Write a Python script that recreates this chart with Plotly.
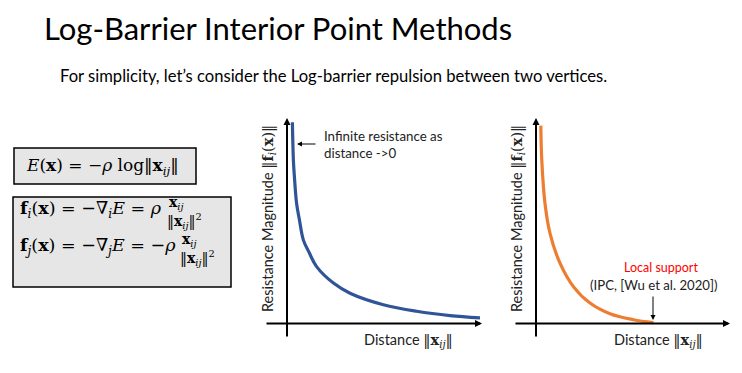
import plotly.graph_objects as go

# page body has an 8px margin, so the figure is drawn inside it
OFF = 8
FW, FH = 726, 357

# ---- data ----
dist_left = [0.027, 0.032, 0.037, 0.048, 0.062, 0.082, 0.112, 0.148, 0.232, 0.315, 0.482, 0.648, 0.815, 0.965]
mag_left = [0.979, 0.793, 0.715, 0.584, 0.505, 0.406, 0.343, 0.277, 0.197, 0.148, 0.092, 0.060, 0.039, 0.028]

dist_right = [0.024, 0.029, 0.045, 0.070, 0.120, 0.187, 0.270, 0.370, 0.487, 0.587]
mag_right = [0.963, 0.793, 0.584, 0.439, 0.294, 0.180, 0.100, 0.048, 0.019, 0.005]

title_text = "Log-Barrier Interior Point Methods"
subtitle_text = "For simplicity, let\u2019s consider the Log-barrier repulsion between two vertices."

BLUE = "#2F5597"
ORANGE = "#ED7D31"
SANS = "Lato"
SERIF = "DejaVu Serif"


def P(px):
    return (px - OFF) / FW


def Q(py):
    return 1 - (py - OFF) / FH


fig = go.Figure()
fig.add_trace(go.Scatter(x=dist_left, y=mag_left, mode="lines", line=dict(color=BLUE, width=3.2, shape="spline"),
                         xaxis="x", yaxis="y", showlegend=False, hoverinfo="skip"))
fig.add_trace(go.Scatter(x=dist_right, y=mag_right, mode="lines", line=dict(color=ORANGE, width=3.2, shape="spline"),
                         xaxis="x2", yaxis="y2", showlegend=False, hoverinfo="skip"))

ax_common = dict(visible=False, fixedrange=True)
fig.update_layout(
    width=FW, height=FH, margin=dict(l=0, r=0, t=0, b=0),
    paper_bgcolor="white", plot_bgcolor="rgba(0,0,0,0)",
    xaxis=dict(domain=[P(265), P(487)], range=[-0.11, 1.0], **ax_common),
    yaxis=dict(domain=[Q(338), Q(118)], range=[-0.07, 1.0], **ax_common),
    xaxis2=dict(domain=[P(514), P(734)], range=[-0.11, 0.99], anchor="y2", **ax_common),
    yaxis2=dict(domain=[Q(338), Q(118)], range=[-0.07, 1.0], anchor="x2", **ax_common),
)

ann = []
# axis arrows
for xr, yr, xend in (("x", "y", 0.975), ("x2", "y2", 0.97)):
    ann.append(dict(xref=xr, yref=yr, axref=xr, ayref=yr, x=xend, y=0, ax=-0.11, ay=0, text="",
                    showarrow=True, arrowhead=2, arrowsize=0.7, arrowwidth=2, arrowcolor="black", standoff=0))
    ann.append(dict(xref=xr, yref=yr, axref=xr, ayref=yr, x=0, y=1.0, ax=0, ay=-0.07, text="",
                    showarrow=True, arrowhead=2, arrowsize=0.7, arrowwidth=2, arrowcolor="black", standoff=0))

# title and subtitle
ann.append(dict(xref="paper", yref="paper", x=P(43), y=Q(8), xanchor="left", yanchor="top", borderpad=0,
                text=title_text, showarrow=False, font=dict(family=SANS, size=31, color="black")))
ann.append(dict(xref="paper", yref="paper", x=P(58), y=Q(76), xanchor="left", yanchor="middle",
                text=subtitle_text, showarrow=False, font=dict(family=SANS, size=16.6, color="black")))


def math(s):
    return f"<span style='font-family:{SERIF}'>{s}</span>"


ylab = "Resistance Magnitude " + math("\u2016<b>f</b><sub><i>i</i></sub>(<b>x</b>)\u2016")
xlab = "Distance " + math("\u2016<b>x</b><sub><i>ij</i></sub>\u2016")
for cx in (268, 517):
    ann.append(dict(xref="paper", yref="paper", x=P(cx), y=Q(219), xanchor="center", yanchor="middle",
                    text=ylab, textangle=-90, showarrow=False, font=dict(family=SANS, size=14.5, color="#222")))
for cx in (408, 658):
    ann.append(dict(xref="paper", yref="paper", x=P(cx), y=Q(340), xanchor="center", yanchor="middle",
                    text=xlab, showarrow=False, font=dict(family=SANS, size=14.5, color="#222")))

# left plot note
ann.append(dict(xref="paper", yref="paper", x=P(322), y=Q(144.5), xanchor="left", yanchor="middle", align="left",
                text="Infinite resistance as<br>distance ->0", showarrow=False,
                font=dict(family=SANS, size=13.3, color="#222")))
ann.append(dict(xref="paper", yref="paper", x=P(297), y=Q(144), ax=20, ay=0, text="", showarrow=True,
                arrowhead=2, arrowsize=1, arrowwidth=1, arrowcolor="black", standoff=0))

# right plot note
ann.append(dict(xref="paper", yref="paper", x=P(661), y=Q(267), xanchor="center", yanchor="middle",
                text="Local support", showarrow=False, font=dict(family=SANS, size=12.5, color="#FF0000")))
ann.append(dict(xref="paper", yref="paper", x=P(654), y=Q(285), xanchor="center", yanchor="middle",
                text="(IPC, [Wu et al. 2020])", showarrow=False, font=dict(family=SANS, size=13.2, color="#222")))
ann.append(dict(xref="paper", yref="paper", x=P(653), y=Q(320), ax=0, ay=-25, text="", showarrow=True,
                arrowhead=2, arrowsize=1, arrowwidth=1, arrowcolor="black", standoff=0))

# equations
eqf1 = dict(family=SERIF, size=17, color="black")
eqf = dict(family=SERIF, size=17.5, color="black")
eqs = dict(family=SERIF, size=14, color="black")
ann.append(dict(xref="paper", yref="paper", x=P(24), y=Q(166.5), xanchor="left", yanchor="middle",
                text="<i>E</i>(<b>x</b>) = \u2212<i>\u03c1</i> log\u2016<b>x</b><sub><i>ij</i></sub>\u2016",
                showarrow=False, font=eqf1))
ann.append(dict(xref="paper", yref="paper", x=P(18), y=Q(209), xanchor="left", yanchor="middle",
                text="<b>f</b><sub><i>i</i></sub>(<b>x</b>) = \u2212\u2207<sub><i>i</i></sub><i>E</i> = <i>\u03c1</i>",
                showarrow=False, font=eqf))
ann.append(dict(xref="paper", yref="paper", x=P(18), y=Q(246), xanchor="left", yanchor="middle",
                text="<b>f</b><sub><i>j</i></sub>(<b>x</b>) = \u2212\u2207<sub><i>j</i></sub><i>E</i> = \u2212<i>\u03c1</i>",
                showarrow=False, font=eqf))
for lx, ny, dy in ((166, 203, 221), (179, 240, 258)):
    ann.append(dict(xref="paper", yref="paper", x=P(lx + 1), y=Q(ny), xanchor="left", yanchor="middle",
                    text="<b>x</b><sub><i>ij</i></sub>", showarrow=False, font=eqs))
    ann.append(dict(xref="paper", yref="paper", x=P(lx - 1), y=Q(dy), xanchor="left", yanchor="middle",
                    text="\u2016<b>x</b><sub><i>ij</i></sub>\u2016<sup>2</sup>", showarrow=False, font=eqs))

fig.update_layout(annotations=ann)

fig.update_layout(shapes=[
    dict(type="rect", xref="paper", yref="paper", x0=P(14), x1=P(196), y0=Q(148), y1=Q(184),
         fillcolor="#E7E6E6", line=dict(color="black", width=1.5), layer="below"),
    dict(type="rect", xref="paper", yref="paper", x0=P(13), x1=P(231), y0=Q(197), y1=Q(287),
         fillcolor="#E7E6E6", line=dict(color="black", width=1.5), layer="below"),
])

fig.write_html("out.html")
